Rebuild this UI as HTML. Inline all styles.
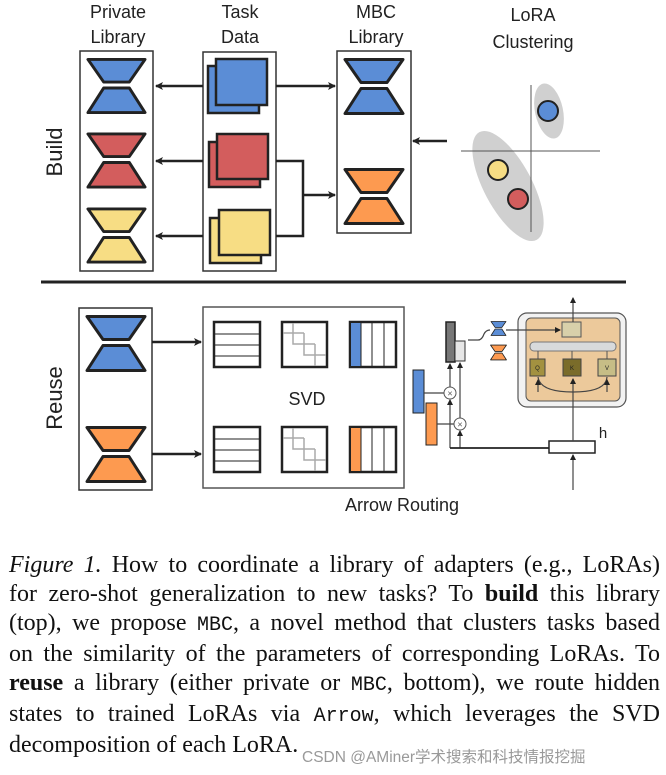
<!DOCTYPE html>
<html><head><meta charset="utf-8"><style>
body{margin:0;width:666px;height:775px;background:#fff;position:relative;overflow:hidden}
svg{position:absolute;left:0;top:0}
.cap{position:absolute;left:9px;top:551px;width:651px;font-family:"Liberation Serif",serif;font-size:24px;line-height:29px;color:#111}
.cap div{white-space:nowrap;text-align:justify;text-align-last:justify}
.cap div.l{text-align-last:left}
.mono{font-family:"Liberation Mono",monospace;font-size:20px}
.wm{position:absolute;left:302px;top:745px;font-family:"Liberation Sans","Noto Sans CJK SC",sans-serif;font-size:15.5px;color:#999;white-space:nowrap}
</style></head><body>
<svg width="666" height="545" viewBox="0 0 666 545" font-family="Liberation Sans, sans-serif">
<defs>
<marker id="a" markerWidth="8" markerHeight="8" refX="7" refY="4" orient="auto" markerUnits="userSpaceOnUse"><path d="M0,0 L8,4 L0,8 L2,4z" fill="#222"/></marker>
<marker id="s" markerWidth="6" markerHeight="6" refX="5" refY="3" orient="auto" markerUnits="userSpaceOnUse"><path d="M0,0 L6,3 L0,6z" fill="#222"/></marker>
<symbol id="hg" viewBox="0 0 62 58"><path d="M2,2 H60 L44,25 H18z" stroke="#222" stroke-width="3" stroke-linejoin="round"/><path d="M18,31 H44 L60,56 H2z" stroke="#222" stroke-width="3" stroke-linejoin="round"/></symbol>
</defs>
<g font-size="18" fill="#222" text-anchor="middle">
<text x="118" y="18">Private</text><text x="118" y="43">Library</text>
<text x="240" y="18">Task</text><text x="240" y="43">Data</text>
<text x="376" y="18">MBC</text><text x="376" y="43">Library</text>
<text x="533" y="21">LoRA</text><text x="533" y="48">Clustering</text>
<text transform="translate(62,152) rotate(-90)" font-size="22">Build</text>
<text transform="translate(62,398) rotate(-90)" font-size="22">Reuse</text>
<text x="307" y="405">SVD</text>
<text x="402" y="511">Arrow Routing</text>
<text x="603" y="438" font-size="15">h</text>
</g>
<rect x="80" y="51" width="73" height="220" fill="none" stroke="#333" stroke-width="1.5"/>
<use href="#hg" x="86" y="57" width="61" height="58" fill="#5b8dd6"/>
<use href="#hg" x="86" y="131" width="61" height="59" fill="#d35d5d"/>
<use href="#hg" x="86" y="206" width="61" height="59" fill="#f7dd84"/>
<rect x="203" y="52" width="73" height="219" fill="none" stroke="#333" stroke-width="1.5"/>
<g stroke="#222" stroke-width="2.5">
<rect x="208" y="66" width="51" height="47" fill="#5b8dd6"/><rect x="216" y="59" width="51" height="46" fill="#5b8dd6"/>
<rect x="209" y="142" width="51" height="45" fill="#d35d5d"/><rect x="217" y="134" width="51" height="45" fill="#d35d5d"/>
<rect x="210" y="218" width="51" height="45" fill="#f7dd84"/><rect x="219" y="210" width="51" height="45" fill="#f7dd84"/>
</g>
<g stroke="#222" stroke-width="2.5" fill="none">
<path d="M203,86 H156" marker-end="url(#a)"/>
<path d="M203,161 H156" marker-end="url(#a)"/>
<path d="M203,236 H156" marker-end="url(#a)"/>
<path d="M276,86 H335" marker-end="url(#a)"/>
<path d="M276,161 H303 V236 H276"/>
<path d="M303,195 H335" marker-end="url(#a)"/>
<path d="M447,141 H413" marker-end="url(#a)"/>
</g>
<rect x="337" y="51" width="74" height="182" fill="none" stroke="#333" stroke-width="1.5"/>
<use href="#hg" x="343" y="57" width="62" height="59" fill="#5b8dd6"/>
<use href="#hg" x="343" y="167" width="62" height="59" fill="#fd9a50"/>
<ellipse cx="549" cy="111" rx="14" ry="28" fill="#d0d0d0" transform="rotate(-12 549 111)"/>
<ellipse cx="508" cy="186" rx="24" ry="61" fill="#d0d0d0" transform="rotate(-28 508 186)"/>
<g stroke="#555" stroke-width="1"><line x1="531" y1="85" x2="531" y2="232"/><line x1="461" y1="151" x2="600" y2="151"/></g>
<g stroke="#222" stroke-width="2"><circle cx="548" cy="111" r="10" fill="#5b8dd6"/><circle cx="498" cy="170" r="10" fill="#f7dd84"/><circle cx="518" cy="199" r="10" fill="#d35d5d"/></g>
<line x1="41" y1="282" x2="626" y2="282" stroke="#222" stroke-width="3"/>
<rect x="79" y="308" width="73" height="182" fill="none" stroke="#333" stroke-width="1.5"/>
<use href="#hg" x="85" y="314" width="62" height="59" fill="#5b8dd6"/>
<use href="#hg" x="85" y="425" width="62" height="59" fill="#fd9a50"/>
<g stroke="#222" stroke-width="2.5"><path d="M152,342 H201" marker-end="url(#a)"/><path d="M152,454 H201" marker-end="url(#a)"/></g>
<rect x="203" y="307" width="201" height="181" fill="none" stroke="#555" stroke-width="1.5"/>
<g>
<rect x="214" y="322" width="46" height="45" fill="#fff" stroke="#222" stroke-width="2.5"/>
<g stroke="#222" stroke-width="1"><line x1="215" y1="334" x2="259" y2="334"/><line x1="215" y1="345" x2="259" y2="345"/><line x1="215" y1="356" x2="259" y2="356"/></g>
<rect x="282" y="322" width="45" height="45" fill="#fff" stroke="#222" stroke-width="2.5"/>
<path d="M283,333 H293 M293,333 V323 M304,333 H293 M304,333 V344 M315,344 H304 M315,344 V355 M326,355 H315 M315,355 V366 M304,344 H293 V333 M315,355 H304 V344" stroke="#aaa" stroke-width="1.5" fill="none"/>
<rect x="350" y="322" width="46" height="45" fill="#fff" stroke="#222" stroke-width="2.5"/>
<rect x="351" y="323" width="10" height="43" fill="#5b8dd6"/>
<g stroke="#222" stroke-width="1"><line x1="361" y1="323" x2="361" y2="366"/><line x1="372" y1="323" x2="372" y2="366"/><line x1="384" y1="323" x2="384" y2="366"/></g>
</g>
<g transform="translate(0,105)">
<rect x="214" y="322" width="46" height="45" fill="#fff" stroke="#222" stroke-width="2.5"/>
<g stroke="#222" stroke-width="1"><line x1="215" y1="334" x2="259" y2="334"/><line x1="215" y1="345" x2="259" y2="345"/><line x1="215" y1="356" x2="259" y2="356"/></g>
<rect x="282" y="322" width="45" height="45" fill="#fff" stroke="#222" stroke-width="2.5"/>
<path d="M283,333 H293 M293,333 V323 M304,333 H293 M304,333 V344 M315,344 H304 M315,344 V355 M326,355 H315 M315,355 V366 M304,344 H293 V333 M315,355 H304 V344" stroke="#aaa" stroke-width="1.5" fill="none"/>
<rect x="350" y="322" width="46" height="45" fill="#fff" stroke="#222" stroke-width="2.5"/>
<rect x="351" y="323" width="10" height="43" fill="#fd9a50"/>
<g stroke="#222" stroke-width="1"><line x1="361" y1="323" x2="361" y2="366"/><line x1="372" y1="323" x2="372" y2="366"/><line x1="384" y1="323" x2="384" y2="366"/></g>
</g>
<rect x="446" y="322" width="9" height="40" fill="#777" stroke="#222" stroke-width="1.5"/>
<rect x="455" y="341" width="10" height="20" fill="#e6e6e6" stroke="#333" stroke-width="1"/>
<rect x="413" y="370" width="11" height="43" fill="#5b8dd6" stroke="#222" stroke-width="1"/>
<rect x="426" y="403" width="11" height="42" fill="#fd9a50" stroke="#222" stroke-width="1"/>
<g stroke="#444" stroke-width="1.2" fill="none">
<path d="M424,393 H444"/><path d="M437,424 H454"/>
<path d="M450,448 V400" marker-end="url(#s)"/><path d="M450,387 V364" marker-end="url(#s)"/>
<path d="M460,448 V431" marker-end="url(#s)"/><path d="M460,418 V363" marker-end="url(#s)"/>
<path d="M450,448 H549" stroke="#222" stroke-width="1.8"/>
<path d="M573,490 V455" marker-end="url(#s)"/>
<path d="M468,340 H478 Q482,340 484,334 Q486,330 490,330"/>
</g>
<circle cx="450" cy="393" r="6" fill="#fff" stroke="#555"/><text x="450" y="396.5" font-size="9" text-anchor="middle" fill="#555">×</text>
<circle cx="460" cy="424" r="6" fill="#fff" stroke="#555"/><text x="460" y="427.5" font-size="9" text-anchor="middle" fill="#555">×</text>
<rect x="549" y="441" width="46" height="12" fill="#fff" stroke="#222" stroke-width="1.5"/>
<use href="#hg" x="490" y="321" width="17" height="15" fill="#5b8dd6"/>
<use href="#hg" x="490" y="344" width="17" height="17" fill="#fd9a50"/>
<rect x="518" y="313" width="108" height="94" rx="9" fill="#f2f2f2" stroke="#555" stroke-width="1.2"/>
<rect x="526" y="318" width="94" height="83" rx="5" fill="#ecc99b" stroke="#555" stroke-width="1"/>
<rect x="562" y="322" width="19" height="15" fill="#d8d0aa" stroke="#555"/>
<path d="M573,322 V298" stroke="#444" stroke-width="1.2" marker-end="url(#s)"/>
<path d="M506,330 H560" stroke="#444" stroke-width="1.2" marker-end="url(#s)"/>
<rect x="530" y="342" width="86" height="9" rx="4" fill="#d8dadb" stroke="#777"/>
<g stroke="#555"><line x1="538" y1="351" x2="538" y2="359"/><line x1="572" y1="351" x2="572" y2="359"/><line x1="607" y1="351" x2="607" y2="359"/></g>
<rect x="530" y="359" width="15" height="17" fill="#a39140" stroke="#444"/>
<rect x="563" y="359" width="18" height="17" fill="#7a6c2a" stroke="#444"/>
<rect x="598" y="359" width="18" height="17" fill="#c6bd86" stroke="#444"/>
<g font-size="6" text-anchor="middle" fill="#222"><text x="537.5" y="370">Q</text><text x="572" y="370">K</text><text x="607" y="370">V</text></g>
<g stroke="#444" stroke-width="1.2" fill="none">
<path d="M538,377 Q540,392 573,392 Q606,392 607,377"/>
<path d="M538,392 V380" marker-end="url(#s)"/><path d="M607,392 V380" marker-end="url(#s)"/>
<path d="M573,441 V379" marker-end="url(#s)"/>
</g>
</svg>
<div class="cap">
<div><i>Figure 1.</i> How to coordinate a library of adapters (e.g., LoRAs)</div>
<div>for zero-shot generalization to new tasks? To <b>build</b> this library</div>
<div>(top), we propose <span class="mono">MBC</span>, a novel method that clusters tasks based</div>
<div>on the similarity of the parameters of corresponding LoRAs. To</div>
<div><b>reuse</b> a library (either private or <span class="mono">MBC</span>, bottom), we route hidden</div>
<div>states to trained LoRAs via <span class="mono">Arrow</span>, which leverages the SVD</div>
<div class="l">decomposition of each LoRA.</div>
</div>
<div class="wm">CSDN @AMiner学术搜索和科技情报挖掘</div>
</body></html>
